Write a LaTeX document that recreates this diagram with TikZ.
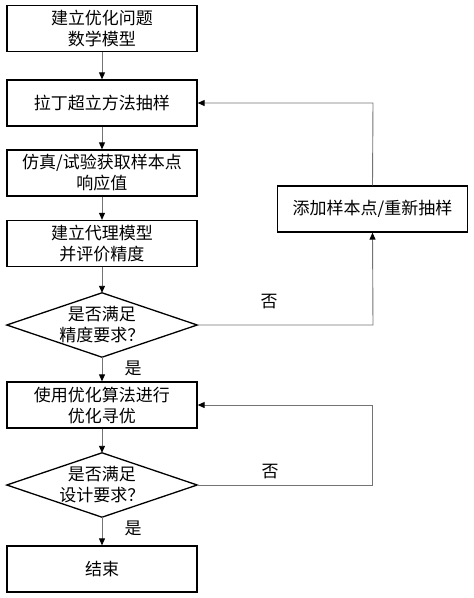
\documentclass[tikz,border=0pt]{standalone}
\usepackage{fontspec}
\newfontfamily\cjk{Noto Sans CJK SC}
\usetikzlibrary{arrows.meta}
\definecolor{linegray}{RGB}{115,115,115}
\tikzset{
  box/.style={draw=black, line width=1.3pt, minimum width=190pt, minimum height=46pt, inner sep=0pt, align=center, font=\cjk\fontsize{17}{21}\selectfont},
  dtext/.style={minimum width=190pt, minimum height=64pt, inner sep=0pt, align=center, font=\cjk\fontsize{17}{21}\selectfont},
  dshape/.style={draw=black, line width=1.3pt},
  conn/.style={draw=linegray, line width=0.9pt, -{Triangle[length=7pt,width=6pt,color=black,fill=black]}},
  lbl/.style={font=\cjk\fontsize{17}{21}\selectfont, inner sep=0pt}
}
\begin{document}
\begin{tikzpicture}[x=1pt,y=-1pt]
\useasboundingbox (0,0) rectangle (474,598);
\node[box] (b1) at (102,28.5) {建立优化问题\\数学模型};
\node[box] (b2) at (102,103) {拉丁超立方法抽样};
\node[box] (b3) at (102,173) {仿真/试验获取样本点\\响应值};
\node[box] (b4) at (102,243.5) {建立代理模型\\并评价精度};
\node[dtext] (d1) at (102,325) {是否满足\\精度要求？};
\draw[dshape] (d1.west) -- (d1.north) -- (d1.east) -- (d1.south) -- cycle;
\node[box] (b5) at (102,405) {使用优化算法进行\\优化寻优};
\node[dtext] (d2) at (102,485) {是否满足\\设计要求？};
\draw[dshape] (d2.west) -- (d2.north) -- (d2.east) -- (d2.south) -- cycle;
\node[box] (b6) at (102,569) {结束};
\node[box] (s1) at (372.5,209) {添加样本点/重新抽样};
\coordinate (c1) at (373,325);
\coordinate (c2) at (373,103);
\coordinate (c3) at (372,485);
\coordinate (c4) at (372,405);
\draw[conn] (b1) -- (b2);
\draw[conn] (b2) -- (b3);
\draw[conn] (b3) -- (b4);
\draw[conn] (b4) -- (d1.north);
\draw[conn] (d1.south) -- (b5);
\draw[conn] (b5) -- (d2.north);
\draw[conn] (d2.south) -- (b6);
\draw[conn] (d1.east) -- (c1) -- (s1.south);
\draw[conn] (s1.north) -- (c2) -- (b2.east);
\draw[conn] (d2.east) -- (c3) -- (c4) -- (b5.east);
\node[lbl] (y1) at (133,368) {是};
\node[lbl] (y2) at (133,528) {是};
\node[lbl] (n1) at (269,302) {否};
\node[lbl] (n2) at (270,472) {否};
\end{tikzpicture}
\end{document}
